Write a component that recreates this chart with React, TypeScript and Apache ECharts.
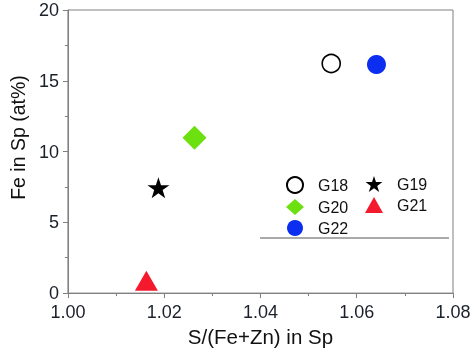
import React, { useEffect, useRef } from "react";
import * as echarts from "echarts";

const seriesNames = ["G18", "G19", "G20", "G21", "G22"];
const xValues = [1.0547, 1.0188, 1.0263, 1.0163, 1.0641];
const yValues = [16.22, 7.45, 10.98, 0.88, 16.15];
const STAR = "path://M50,0 L61.2,34.5 L97.6,34.5 L68.2,55.9 L79.4,90.5 L50,69.1 L20.6,90.5 L31.8,55.9 L2.4,34.5 L38.8,34.5 Z";
const symbols = ["circle", STAR, "diamond", "triangle", "circle"];
const xTicks = { min: 1.0, max: 1.08, interval: 0.02 };
const yTicks = { min: 0, max: 20, interval: 5 };

const styles: Record<string, any> = {
  G18: { symbolSize: 18, itemStyle: { color: "#ffffff", borderColor: "#000000", borderWidth: 1.6, opacity: 1 } },
  G19: { symbolSize: [22, 21], itemStyle: { color: "#000000", opacity: 1 } },
  G20: { symbolSize: 24, itemStyle: { color: "#6de010", opacity: 1 } },
  G21: { symbolSize: [23, 20], itemStyle: { color: "#f5192d", opacity: 1 } },
  G22: { symbolSize: 19, itemStyle: { color: "#0c2ef0", opacity: 1 } },
};

const FONT = "'Liberation Sans', Arial, sans-serif";
const AX = "#808080";

export default function App() {
  const ref = useRef<HTMLDivElement>(null);
  useEffect(() => {
    if (!ref.current) return;
    const chart = echarts.init(ref.current, undefined, { renderer: "svg" });
    const series = seriesNames.map((n, i) => ({
      name: n,
      type: "scatter",
      symbol: symbols[i],
      symbolSize: styles[n].symbolSize,
      itemStyle: styles[n].itemStyle,
      data: [[xValues[i], yValues[i]]],
      z: 3,
    }));
    const legendCommon = {
      orient: "vertical",
      top: 176,
      padding: 0,
      itemWidth: 18,
      itemHeight: 16,
      itemGap: 5,
      selectedMode: false,
      textStyle: { fontFamily: FONT, fontSize: 16, color: "#111", lineHeight: 16, padding: [0, 0, 0, 9] },
    };
    chart.setOption({
      animation: false,
      grid: { left: 61, right: 21, top: 10, bottom: 56, show: true, borderColor: AX, borderWidth: 1 },
      legend: [
        { ...legendCommon, left: 286, data: ["G18", "G20", "G22"] },
        { ...legendCommon, left: 365, data: ["G19", "G21"] },
      ],
      xAxis: {
        type: "value",
        min: xTicks.min,
        max: xTicks.max,
        interval: xTicks.interval,
        name: "S/(Fe+Zn) in Sp",
        nameLocation: "middle",
        nameGap: 32,
        nameTextStyle: { fontFamily: FONT, fontSize: 20.5, color: "#111" },
        axisLine: { lineStyle: { color: AX } },
        axisTick: { show: true, length: 5, inside: false, lineStyle: { color: AX } },
        minorTick: { show: true, splitNumber: 2, length: 3, lineStyle: { color: AX } },
        splitLine: { show: false },
        axisLabel: { fontFamily: FONT, fontSize: 18, color: "#1a1f2a", margin: 10, formatter: (v: number) => v.toFixed(2) },
      },
      yAxis: {
        type: "value",
        min: yTicks.min,
        max: yTicks.max,
        interval: yTicks.interval,
        name: "Fe in Sp (at%)",
        nameLocation: "middle",
        nameGap: 36,
        nameTextStyle: { fontFamily: FONT, fontSize: 19.5, color: "#111", padding: [0, 0, 0, 28] },
        axisLine: { show: true, lineStyle: { color: AX } },
        axisTick: { show: true, length: 5, inside: false, lineStyle: { color: AX } },
        minorTick: { show: true, splitNumber: 2, length: 3, lineStyle: { color: AX } },
        splitLine: { show: false },
        axisLabel: { fontFamily: FONT, fontSize: 18, color: "#1a1f2a", margin: 9 },
      },
      graphic: [
        { type: "line", shape: { x1: 260, y1: 238, x2: 449, y2: 238 }, style: { stroke: "#555", lineWidth: 1 }, silent: true },
      ],
      series,
    });
    return () => chart.dispose();
  }, []);
  return <div ref={ref} style={{ position: "fixed", left: 0, top: 0, width: 474, height: 352 }} />;
}
